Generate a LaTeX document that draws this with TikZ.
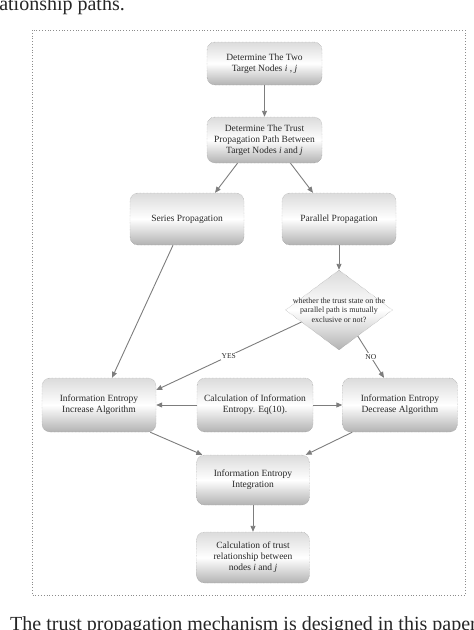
\documentclass[tikz,border=0pt]{standalone}
\usepackage{fontspec}
\setmainfont{Liberation Serif}
\usetikzlibrary{shapes.geometric,arrows.meta,calc}
\begin{document}
\begin{tikzpicture}[x=1pt,y=-1pt]
    % Define trust diagram palette
    \definecolor{trustgray}{RGB}{125,125,125}
    \definecolor{trustborder}{RGB}{140,140,140}
    \definecolor{trusttext}{RGB}{40,40,40}

    % Define box, decision and arrow styles
    \tikzset{
        process/.style={
            draw=trustborder,
            densely dotted,
            top color=black!14,
            bottom color=black!30,
            middle color=white,
            rounded corners=8pt,
            align=center,
            text=trusttext,
            font=\fontsize{9.5}{11}\selectfont,
            inner sep=2pt
        },
        decision/.style={
            draw=trustborder,
            densely dotted,
            diamond,
            aspect=1.34,
            top color=black!14,
            bottom color=black!30,
            middle color=white,
            minimum width=107pt,
            minimum height=80pt,
            inner sep=0pt
        },
        decisiontext/.style={
            align=center,
            text=trusttext,
            font=\fontsize{8}{9.5}\selectfont,
            inner sep=0pt
        },
        arrow/.style={
            -{Triangle[length=6pt,width=5pt]},
            trustgray,
            line width=0.9pt
        },
        answer/.style={
            fill=white,
            text=trusttext,
            font=\fontsize{7.5}{9}\selectfont,
            inner sep=1pt
        },
        frame/.style={
            draw=trustborder,
            dotted,
            line width=0.8pt
        },
        pagetext/.style={
            text=black!85,
            font=\fontsize{20}{23}\selectfont,
            inner sep=0pt
        }
    }

    \useasboundingbox (0,0) rectangle (474,630);

    % Surrounding page text
    \node[pagetext, anchor=base east] (toptext) at (125,10) {relationship paths.};
    \node[pagetext, anchor=base west] (bottomtext) at (10,630) {The trust propagation mechanism is designed in this paper};

    % Dotted frame
    \draw[frame] (32,30) rectangle (465,595);

    % Top column
    \node[process, minimum width=115pt, minimum height=43pt] (target) at (264.5,63.5) {Determine The Two\\Target Nodes \textit{i} , \textit{j}};
    \node[process, minimum width=115pt, minimum height=46pt] (path) at (264.5,140) {Determine The Trust\\Propagation Path Between\\Target Nodes \textit{i} and \textit{j}};

    % Propagation types
    \node[process, minimum width=114pt, minimum height=52pt] (series) at (187,219) {Series Propagation};
    \node[process, minimum width=114pt, minimum height=52pt] (parallel) at (339,219) {Parallel Propagation};

    % Decision on the parallel path
    \node[decision] (decision) at (339,310) {};
    \node[decisiontext] (decision text) at (decision) {whether the trust state on the\\parallel path is mutually\\exclusive or not?};

    % Entropy algorithms
    \node[process, minimum width=114pt, minimum height=54pt] (increase) at (99,405) {Information Entropy\\Increase Algorithm};
    \node[process, minimum width=116pt, minimum height=54pt] (calc) at (255,405) {Calculation of Information\\Entropy. Eq(10).};
    \node[process, minimum width=115pt, minimum height=54pt] (decrease) at (400,405) {Information Entropy\\Decrease Algorithm};

    % Integration and result
    \node[process, minimum width=113pt, minimum height=50pt] (integration) at (253,480) {Information Entropy\\Integration};
    \node[process, minimum width=113pt, minimum height=51pt] (result) at (253,557.5) {Calculation of trust\\relationship between\\nodes \textit{i} and \textit{j}};

    % Main flow arrows
    \draw[arrow] (target) -- (path);
    \draw[arrow] ([xshift=-27pt]path.south) -- ([xshift=28pt]series.north);
    \draw[arrow] ([xshift=26pt]path.south) -- ([xshift=-26pt]parallel.north);
    \draw[arrow] ([xshift=-14pt]series.south) -- ([xshift=13pt]increase.north);
    \draw[arrow] (parallel) -- (decision);

    % Decision outcomes
    \draw[arrow] ($(decision.west)!0.3!(decision.south)$) -- ([yshift=15pt]increase.east) node[answer, midway] {YES};
    \draw[arrow] ($(decision.south)!0.35!(decision.east)$) -- ([xshift=-16pt]decrease.north) node[answer, midway] {NO};

    % Entropy calculation feeds both algorithms
    \draw[arrow] (calc) -- (increase);
    \draw[arrow] (calc) -- (decrease);

    % Integration
    \draw[arrow] ([xshift=-6pt]increase.south east) -- ([xshift=6pt]integration.north west);
    \draw[arrow] ([xshift=10pt]decrease.south west) -- ([xshift=-4pt]integration.north east);
    \draw[arrow] (integration) -- (result);

\end{tikzpicture}
\end{document}
